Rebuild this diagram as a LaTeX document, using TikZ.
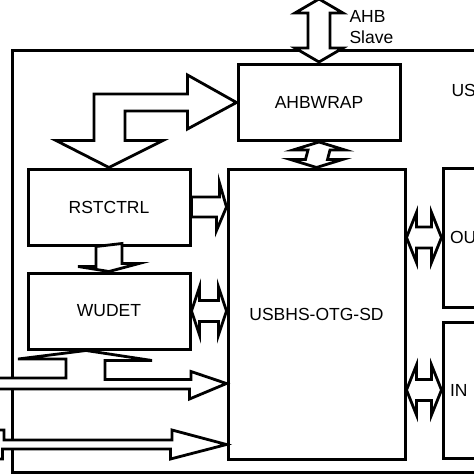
\documentclass[tikz,border=0pt]{standalone}
\usepackage{fontspec}
\setmainfont{Liberation Sans}
\usetikzlibrary{calc}

\tikzset{
  block/.style={draw, line width=3pt, fill=white, minimum width=162pt, minimum height=76pt, inner sep=0pt},
  blockarrow/.style={draw, line width=2.8pt, fill=white, line join=miter},
  frame/.style={draw, line width=3pt}
}

% vertical double block arrow: top tip, bottom tip, head half width, head length
\newcommand{\vdarrow}[4]{%
  \draw[blockarrow] (#1) -- ($(#1)+(#3,#4)$) -- ($(#1)+(11,#4)$) -- ($(#2)+(11,-#4)$)
    -- ($(#2)+(#3,-#4)$) -- (#2) -- ($(#2)+(-#3,-#4)$) -- ($(#2)+(-11,-#4)$)
    -- ($(#1)+(-11,#4)$) -- ($(#1)+(-#3,#4)$) -- cycle;}
% horizontal double block arrow: left tip, right tip, head half width, head length
\newcommand{\hdarrow}[4]{%
  \draw[blockarrow] (#1) -- ($(#1)+(#4,-#3)$) -- ($(#1)+(#4,-10.5)$) -- ($(#2)+(-#4,-10.5)$)
    -- ($(#2)+(-#4,-#3)$) -- (#2) -- ($(#2)+(-#4,#3)$) -- ($(#2)+(-#4,10.5)$)
    -- ($(#1)+(#4,10.5)$) -- ($(#1)+(#4,#3)$) -- cycle;}

\begin{document}
\begin{tikzpicture}[x=1pt, y=-1pt, font=\fontsize{17.5}{20.5}\selectfont]
    \useasboundingbox (0,0) rectangle (474,474);
    \clip (0,0) rectangle (474,474);

    % Frame
    \draw[frame] (540,50) -- (12,50) -- (12,472) -- (540,472);
    \node[anchor=west] (usbhs) at (448,90) {US};

    % Nodes
    \node[block] (ahbwrap) at (319,102.5) {AHBWRAP};
    \node[block] (rstctrl) at (109,207) {RSTCTRL};
    \node[block] (wudet) at (109,311) {WUDET};
    \node[block, minimum width=177pt, minimum height=290pt] (usb) at (316.5,314) {USBHS-OTG-SD};
    \node[block, minimum width=120pt, minimum height=139pt, text width=106pt, align=left] (out) at (503,237.5) {OU};
    \node[block, minimum width=120pt, minimum height=136pt, text width=106pt, align=left] (in) at (503,390) {IN};
    \node[anchor=west, align=left] (slave) at (346,27) {AHB\\Slave};
    \coordinate (ahbtop) at (319,-1);
    \coordinate (vin) at (-4,383.5);
    \coordinate (hin) at (-4,444.5);

    % Edges
    \vdarrow{ahbtop}{$(ahbwrap.north)+(0,-1)$}{24}{14}
    \vdarrow{ahbwrap.south}{usb.north}{26}{8}
    \hdarrow{wudet.east}{wudet.east -| usb.west}{24}{8}
    \hdarrow{out.west -| usb.east}{out.west}{25}{10}
    \hdarrow{in.west -| usb.east}{in.west}{25}{10}
    % rstctrl -> usb
    \draw[blockarrow] ($(rstctrl.east)+(0,-10)$) -- ++(28,0) -- ++(0,-14) -- (rstctrl.east -| usb.west)
      -- ++(-10,23.5) -- ++(0,-13.5) -- ($(rstctrl.east)+(0,10)$) -- cycle;
    % rstctrl -> wudet
    \draw[blockarrow] ($(rstctrl.south)+(-13,0)$) -- ++(0,20) -- ++(-18,0) -- (wudet.north)
      -- ++(30,-8) -- ++(-17,0) -- ++(0,-20) -- cycle;
    % rstctrl -> ahbwrap
    \draw[blockarrow] (rstctrl.north) -- ++(54,-27) -- ++(-38,0) |- ($(ahbwrap.west)+(-49,8.5)$)
      -- ++(0,18) -- (ahbwrap.west) -- ++(-49,-27.5) -- ++(0,19) -| ($(rstctrl.north)+(-15,-27)$)
      -- ++(-38,0) -- cycle;
    % input -> wudet, usb
    \draw[blockarrow] ($(vin)+(0,-5.5)$) -- ++(70,0) -- ++(0,-19) -- ++(-48,0)
      -- ($(wudet.south)+(-23,0)$) -- ++(66,10) -- ++(-47,0) -- ++(0,19) -- ++(86,0) -- ++(0,-8)
      -- (vin -| usb.west) -- ++(-37,15.5) -- ++(0,-10) -- ($(vin)+(0,5.5)$);
    % input -> usb
    \draw[blockarrow] ($(hin)+(0,-14.5)$) -- ++(8,0) -- ++(0,10) -- ++(168,0) -- ++(0,-10)
      -- (hin -| usb.west) -- ++(-56,14.5) -- ++(0,-10) -- ++(-168,0) -- ++(0,10) -- ($(hin)+(0,14.5)$);
\end{tikzpicture}
\end{document}
